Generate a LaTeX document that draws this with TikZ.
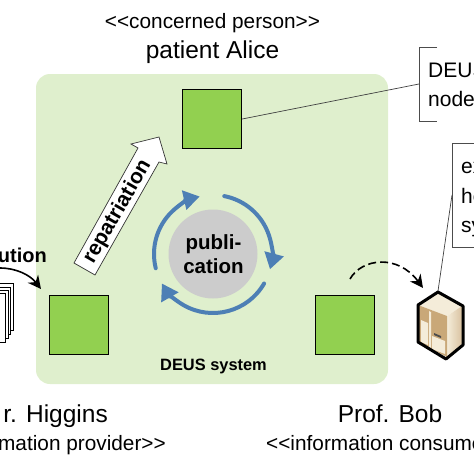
\documentclass[tikz,border=0pt]{standalone}
\usepackage{fontspec}
\setmainfont{Liberation Sans}[Ligatures=NoCommon]
\usetikzlibrary{arrows.meta, shapes.geometric, positioning}
\definecolor{deusgreen}{HTML}{DFEFCD}
\definecolor{nodegreen}{HTML}{92D050}
\definecolor{cycleblue}{HTML}{4D7FB5}
\definecolor{servertan}{HTML}{C9A878}
\definecolor{servercream}{HTML}{F4ECD9}
\tikzset{
  deusnode/.style={draw=black, line width=1.4pt, fill=nodegreen, minimum size=59pt, inner sep=0pt},
  namelabel/.style={font=\fontsize{24.5}{29}\selectfont, inner sep=0pt},
  rolelabel/.style={font=\fontsize{20.8}{25}\selectfont, inner sep=0pt},
  notelabel/.style={font=\fontsize{21}{25}\selectfont, inner sep=0pt, anchor=base west},
  boldlabel/.style={font=\bfseries\fontsize{20.5}{24}\selectfont, inner sep=0pt},
  notebracket/.style={draw=black!70, line width=0.7pt},
  leader/.style={draw=black!75, line width=0.7pt},
  cyclearrow/.style={draw=cycleblue, line width=4pt, line cap=round, -{Triangle[length=16pt,width=19pt]}},
  flowarrow/.style={draw=black, line width=1.6pt, -{Stealth[length=13pt,width=13pt]}},
  docpage/.style={draw=black, line width=0.7pt, fill=white},
}
\begin{document}
\begin{tikzpicture}[x=1pt, y=-1pt]
  \useasboundingbox (0,0) rectangle (474,474);

  % DEUS system area
  \fill[deusgreen, rounded corners=14pt] (36,74) rectangle (388,384);
  \node[font=\bfseries\fontsize{16.4}{20}\selectfont, inner sep=0pt, anchor=base] (deuslabel) at (213.5,370) {DEUS system};

  % Participants
  \node[deusnode] (alice) at (212,119) {};
  \node[deusnode] (higgins) at (79,325) {};
  \node[deusnode] (bob) at (345,325) {};

  % Labels
  \node[rolelabel, anchor=base] (aliceRole) at (212.5,28) {<{}<concerned person>{}>};
  \node[namelabel, anchor=base] (aliceName) at (212.5,58) {patient Alice};
  \node[namelabel, anchor=base east] (higginsName) at (108,422) {r. Higgins};
  \node[rolelabel, anchor=base east] (higginsRole) at (166,450) {mation provider>{}>};
  \node[namelabel, anchor=base] (bobName) at (390,422) {Prof. Bob};
  \node[rolelabel, anchor=base west] (bobRole) at (266,450) {<{}<information consume};

  % Publication cycle
  \node[circle, fill=black!20, minimum size=89pt, inner sep=0pt] (pub) at (213,254) {};
  \node[boldlabel, anchor=base] (pubA) at (213.5,249) {publi-};
  \node[boldlabel, anchor=base] (pubB) at (213.5,273) {cation};
  \draw[cyclearrow] (pub.center) ++(-79:59) arc (-79:15:59);
  \draw[cyclearrow] (pub.center) ++(30:59) arc (30:150:59);
  \draw[cyclearrow] (pub.center) ++(166:59) arc (166:257:59);

  % Repatriation arrow
  \draw[draw=black!80, line width=0.7pt, fill=white] (74,263) -- (138,148) -- (131,144) -- (159,137) -- (167,164) -- (159,162) -- (95,275) -- cycle;
  \node[boldlabel, font=\bfseries\fontsize{21}{25}\selectfont, rotate=60] (repatriation) at (117.5,212) {repatriation};

  % Distribution
  \foreach \px/\pt/\pb in {13/283/330, 10.5/287/334, 8/290/338, 5.5/293/342}
    \draw[docpage] (-20,\pt) rectangle (\px,\pb);
  \node[boldlabel, font=\bfseries\fontsize{20}{24}\selectfont, anchor=base east] (distribution) at (47,262) {ution};
  \coordinate (docs) at (0,268);
  \coordinate (higginsIn) at (41,289);
  \draw[flowarrow] (docs) .. controls (16,268) and (30,275) .. (higginsIn);

  % Server
  \fill[servercream] (418,305) -- (438,292) -- (462,306) -- (447,316) -- cycle;
  \shade[left color=servercream, right color=servertan!70!white] (447,316) -- (462,306) -- (462,344) -- (447,357) -- cycle;
  \fill[servertan] (418,305) -- (447,316) -- (447,357) -- (418,342) -- cycle;
  \fill[servercream] (421,320) -- (428,323) -- (428,345) -- (421,342) -- cycle;
  \fill[servercream] (432,336) -- (445,341) -- (445,354) -- (432,349) -- cycle;
  \fill[servercream] (429,311) -- (431,312) -- (431,350) -- (429,349) -- cycle;
  \fill[black!70] (434,333) -- (441,336) -- (441,338) -- (434,335) -- cycle;
  \draw[black, line width=3pt, line join=round] (418,305) -- (438,292) -- (463,306) -- (463,345) -- (446,359) -- (418,342) -- cycle;
  \coordinate (serverTop) at (438,291);
  \coordinate (bobOut) at (350,279);
  \coordinate (serverIn) at (423,288);
  \draw[flowarrow, dash pattern=on 8pt off 4pt] (bobOut) .. controls (362,258) and (398,254) .. (serverIn);

  % Notes
  \draw[notebracket] (437,47) -- (419,47) -- (419,121) -- (437,121);
  \coordinate (deusNote) at (419,84);
  \draw[leader] (alice.east) -- (deusNote);
  \node[notelabel] (deusNoteA) at (428,77) {DEUS};
  \node[notelabel] (deusNoteB) at (428,106) {node};
  \draw[notebracket] (474,143) -- (452,143) -- (452,247) -- (474,247);
  \coordinate (serverNote) at (452,195);
  \draw[leader] (serverTop) -- (serverNote);
  \node[notelabel] (serverNoteA) at (461,173) {ex};
  \node[notelabel] (serverNoteB) at (461,203) {he};
  \node[notelabel] (serverNoteC) at (461,232) {sy};
\end{tikzpicture}
\end{document}
